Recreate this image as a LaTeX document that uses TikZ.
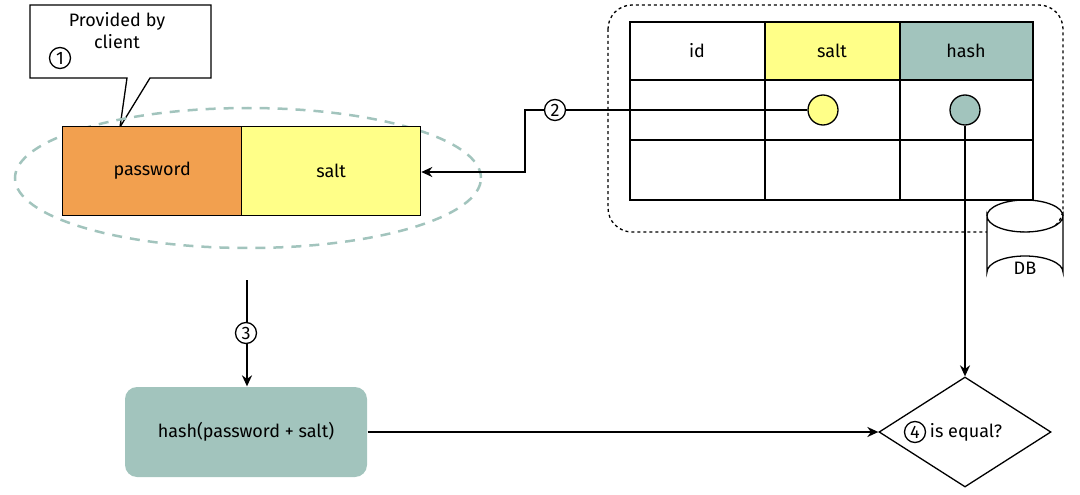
\documentclass[tikz,border=0pt]{standalone}
\usepackage{fontspec}
\setmainfont{Fira Sans}
\usetikzlibrary{shapes.geometric,arrows.meta}
\definecolor{tealc}{HTML}{A2C4BD}
\definecolor{yel}{HTML}{FFFF88}
\definecolor{org}{HTML}{F2A04F}
\begin{document}
\begin{tikzpicture}[x=1pt,y=-1pt,line width=1.3pt,
  every node/.style={font=\fontsize{18}{22}\selectfont},
  num/.style={circle,draw,line width=1.3pt,fill=white,inner sep=0pt,minimum size=21pt},
  arr/.style={line width=2.2pt,-{Stealth[length=11pt,width=10pt]}}]
\useasboundingbox (0,0) rectangle (1080,495);
% callout
\draw[fill=white] (30,5) -- (211,5) -- (211,78) -- (150,78) -- (120,127) -- (127,78) -- (30,78) -- cycle;
\node[align=center] (prov) at (117,31) {Provided by\\client};
\node[num] (n1) at (60,58) {1};
% ellipse
\node[ellipse,draw=tealc,dashed,line width=2.5pt,dash pattern=on 10pt off 8pt,minimum width=466pt,minimum height=140pt] (ell) at (248,178) {};
\node[draw,fill=org,minimum width=179pt,minimum height=89pt,anchor=north west] (pw) at (62,126) {password};
\node[draw,fill=yel,minimum width=179pt,minimum height=89pt,anchor=north west] (ps) at (241,126) {salt};
% table
\draw[dashed,rounded corners=24pt] (608,5) rectangle (1063,232);
\fill[yel] (765,22) rectangle (900,80);
\fill[tealc] (900,22) rectangle (1033,80);
\draw (630,22) rectangle (1033,200);
\foreach \x in {765,900}{\draw (\x,22) -- (\x,200);}
\foreach \y in {80,140}{\draw (630,\y) -- (1033,\y);}
\node (h1) at (697,51) {id};
\node (h2) at (832,51) {salt};
\node (h3) at (966,51) {hash};
\node[circle,draw,fill=yel,minimum size=30pt,inner sep=0pt] (cs) at (823,110) {};
\node[circle,draw,fill=tealc,minimum size=30pt,inner sep=0pt] (ch) at (965,110) {};
% DB
\draw[fill=white] (987,216) -- (987,272) arc[start angle=180,end angle=360,x radius=38,y radius=16] -- (1063,216) arc[start angle=0,end angle=180,x radius=38,y radius=16] -- cycle;
\draw (987,216) arc[start angle=180,end angle=360,x radius=38,y radius=16];
\node (dbl) at (1025,268) {DB};
% diamond
\node[diamond,draw,fill=white,minimum width=172pt,minimum height=110pt,aspect=1.6] (dia) at (965,432) {};
\node[num] (n4) at (915,432) {4};
\node[anchor=west] (eq) at (926,432) {is equal?};
% hash box
\node[rounded corners=12pt,fill=tealc,minimum width=242pt,minimum height=90pt] (hb) at (246,432) {hash(password + salt)};
% connectors
\coordinate (c2) at (525,110);
\coordinate (c3) at (525,172);
\draw[arr] (cs.west) -- (c2) -- (c3) -- (ps.east |- c3);
\node[num] (n2) at (555,110) {2};
\draw[arr] (ch.south) -- (dia.north);
\coordinate (e3) at (247,280);
\draw[arr] (e3) -- (hb.north -| e3);
\node[num] (n3) at (246,333) {3};
\draw[arr] (hb.east) -- (dia.west);
\end{tikzpicture}
\end{document}
